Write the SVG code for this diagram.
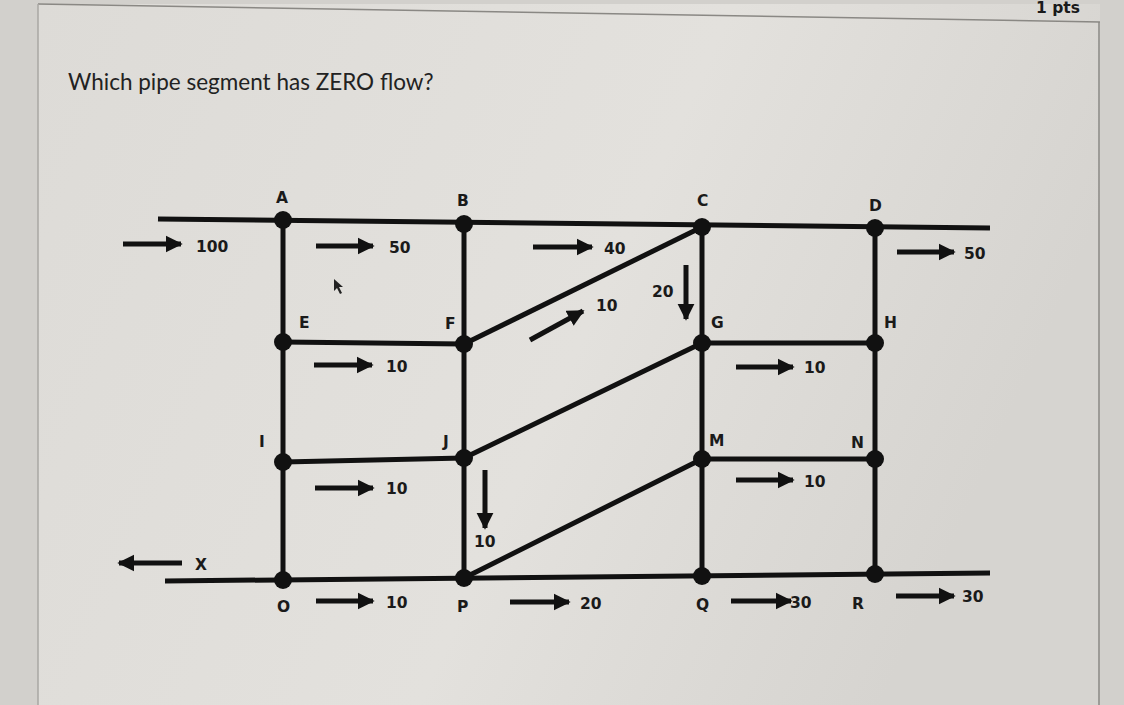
<svg xmlns="http://www.w3.org/2000/svg" width="1124" height="705" viewBox="0 0 1124 705">
<defs>
<linearGradient id="bg" x1="0" y1="0" x2="1" y2="0.3">
<stop offset="0" stop-color="#dddbd7"/>
<stop offset="0.6" stop-color="#e3e1dd"/>
<stop offset="1" stop-color="#d6d4d0"/>
</linearGradient>
<marker id="ah" viewBox="0 0 10 10" refX="9" refY="5" markerWidth="3.4" markerHeight="3.5" orient="auto" markerUnits="strokeWidth">
<path d="M0,0 L10,5 L0,10 Z" fill="#111"/>
</marker>
</defs>
<style>
.pipe{stroke:#111;stroke-width:5;fill:none;stroke-linecap:butt}
.node{fill:#111}
.arr{stroke:#111;stroke-width:5;fill:none;marker-end:url(#ah)}
.lbl{font-family:"DejaVu Sans",Verdana,sans-serif;font-weight:bold;font-size:15.5px;fill:#1a1a1a}
.q{font-family:Lato,"Open Sans",sans-serif;font-size:22.5px;fill:#222}
</style>
<rect x="0" y="0" width="1124" height="705" fill="#d2d0cc"/>
<rect x="38" y="4" width="1062" height="710" fill="url(#bg)"/>
<path d="M38,4 L1100,22" stroke="#8a8884" stroke-width="1.5" fill="none"/>
<path d="M38,4 L38,705" stroke="#a9a7a3" stroke-width="1.5" fill="none"/>
<path d="M1099,22 L1099,705" stroke="#8a8884" stroke-width="1.5" fill="none"/>
<text x="1036" y="13" class="lbl" font-size="10px">1 pts</text>
<text x="68" y="90" class="q">Which pipe segment has ZERO flow?</text>

<g id="connectors">
<path class="pipe" d="M158,219 L990,228"/>
<path class="pipe" d="M165,581 L990,573"/>
<path class="pipe" d="M283,220 L283,580"/>
<path class="pipe" d="M464,224 L464,578"/>
<path class="pipe" d="M702,227 L702,576"/>
<path class="pipe" d="M875,228 L875,574"/>
<path class="pipe" d="M283,342 L464,344"/>
<path class="pipe" d="M702,343 L875,343"/>
<path class="pipe" d="M283,462 L464,458"/>
<path class="pipe" d="M702,459 L875,459"/>
<path class="pipe" d="M464,344 L702,227"/>
<path class="pipe" d="M464,458 L702,343"/>
<path class="pipe" d="M464,578 L702,459"/>
</g>

<g id="flows">
<path class="arr" d="M123,244 L181,244"/>
<path class="arr" d="M316,246 L373,246"/>
<path class="arr" d="M533,247 L592,247"/>
<path class="arr" d="M530,340 L583,311"/>
<path class="arr" d="M686,265 L686,319"/>
<path class="arr" d="M897,252 L954,252"/>
<path class="arr" d="M314,365 L372,365"/>
<path class="arr" d="M736,367 L793,367"/>
<path class="arr" d="M315,488 L373,488"/>
<path class="arr" d="M485,470 L485,528"/>
<path class="arr" d="M736,480 L793,480"/>
<path class="arr" d="M182,563 L119,563"/>
<path class="arr" d="M316,601 L373,601"/>
<path class="arr" d="M510,602 L569,602"/>
<path class="arr" d="M731,601 L791,601"/>
<path class="arr" d="M896,596 L954,596"/>
<text class="lbl" x="196" y="252">100</text>
<text class="lbl" x="389" y="253">50</text>
<text class="lbl" x="604" y="254">40</text>
<text class="lbl" x="596" y="311">10</text>
<text class="lbl" x="652" y="297">20</text>
<text class="lbl" x="964" y="259">50</text>
<text class="lbl" x="386" y="372">10</text>
<text class="lbl" x="804" y="373">10</text>
<text class="lbl" x="386" y="494">10</text>
<text class="lbl" x="474" y="547">10</text>
<text class="lbl" x="804" y="487">10</text>
<text class="lbl" x="195" y="570">X</text>
<text class="lbl" x="386" y="608">10</text>
<text class="lbl" x="580" y="609">20</text>
<text class="lbl" x="790" y="608">30</text>
<text class="lbl" x="962" y="602">30</text>
</g>

<g id="cursor"><path d="M334,279 L334,291 L337,288 L340,294 L342,293 L339,287 L343,287 Z" fill="#222"/></g>

<g id="A"><circle class="node" cx="283" cy="220" r="9"/><text class="lbl" x="276" y="203">A</text></g>
<g id="B"><circle class="node" cx="464" cy="224" r="9"/><text class="lbl" x="457" y="206">B</text></g>
<g id="C"><circle class="node" cx="702" cy="227" r="9"/><text class="lbl" x="697" y="206">C</text></g>
<g id="D"><circle class="node" cx="875" cy="228" r="9"/><text class="lbl" x="869" y="211">D</text></g>
<g id="E"><circle class="node" cx="283" cy="342" r="9"/><text class="lbl" x="299" y="328">E</text></g>
<g id="F"><circle class="node" cx="464" cy="344" r="9"/><text class="lbl" x="445" y="329">F</text></g>
<g id="G"><circle class="node" cx="702" cy="343" r="9"/><text class="lbl" x="711" y="328">G</text></g>
<g id="H"><circle class="node" cx="875" cy="343" r="9"/><text class="lbl" x="884" y="328">H</text></g>
<g id="I"><circle class="node" cx="283" cy="462" r="9"/><text class="lbl" x="259" y="447">I</text></g>
<g id="J"><circle class="node" cx="464" cy="458" r="9"/><text class="lbl" x="443" y="447">J</text></g>
<g id="M"><circle class="node" cx="702" cy="459" r="9"/><text class="lbl" x="709" y="446">M</text></g>
<g id="N"><circle class="node" cx="875" cy="459" r="9"/><text class="lbl" x="851" y="448">N</text></g>
<g id="O"><circle class="node" cx="283" cy="580" r="9"/><text class="lbl" x="277" y="612">O</text></g>
<g id="P"><circle class="node" cx="464" cy="578" r="9"/><text class="lbl" x="457" y="612">P</text></g>
<g id="Q"><circle class="node" cx="702" cy="576" r="9"/><text class="lbl" x="696" y="610">Q</text></g>
<g id="R"><circle class="node" cx="875" cy="574" r="9"/><text class="lbl" x="852" y="609">R</text></g>
</svg>
